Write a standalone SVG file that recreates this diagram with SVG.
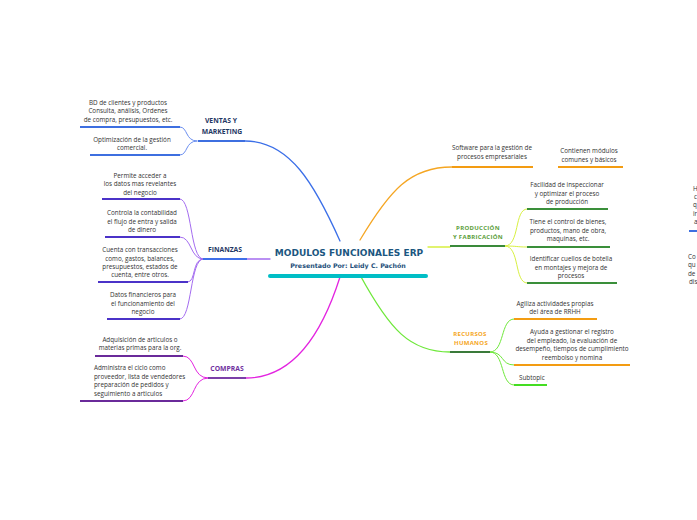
<svg xmlns="http://www.w3.org/2000/svg" width="697" height="520" viewBox="0 0 697 520">
<style>
.t{font-family:"Open Sans","DejaVu Sans",sans-serif;font-size:6.3px;fill:#333;text-anchor:middle}
.ts{font-family:"Open Sans","DejaVu Sans",sans-serif;font-size:6.3px;fill:#333}
.lb{font-family:"Open Sans","DejaVu Sans",sans-serif;font-size:6.8px;font-weight:bold;text-anchor:middle}
.ls{font-family:"Open Sans","DejaVu Sans",sans-serif;font-size:6px;font-weight:bold;text-anchor:middle;letter-spacing:0.3px}
.c{fill:none;stroke-width:1.3;stroke-linecap:round}
.b{fill:none;stroke-width:1;stroke-linecap:round}
.u{fill:none;stroke-width:2}
</style>
<rect width="697" height="520" fill="#fff"/>
<g id="connectors">
<path class="c" stroke="#3b6fe8" d="M340,241 C315,185 290,141 245,141"/>
<path class="c" stroke="#a46cf0" d="M270,259 L247,259"/>
<path class="c" stroke="#e324e0" d="M340,277 C320,340 290,378 246,378"/>
<path class="c" stroke="#f5a623" d="M360,240 C390,190 410,167 452,167"/>
<path class="c" stroke="#d8f040" d="M428,247 L450,247"/>
<path class="c" stroke="#6ee83a" d="M360,275 C390,330 410,352 450,352"/>
<path class="b" stroke="#6a8ef0" d="M197,141 C185,141 188,127 180,127 M197,141 C185,141 188,155 180,155"/>
<path class="b" stroke="#a46cf0" d="M203,259 C190,259 192,199 180,199 M203,259 C190,259 192,237 180,237 M203,259 C192,259 196,282 188,282 M203,259 C190,259 192,319 180,319"/>
<path class="b" stroke="#e324e0" d="M208,378 C192,378 196,356 183,356 M208,378 C192,378 196,401 183,401"/>
<path class="b" stroke="#d8f040" d="M505,246 C520,246 514,209 527,209 M505,246 C518,246 516,247 527,247 M505,246 C520,246 514,283 527,283"/>
<path class="b" stroke="#6ee83a" d="M490,352 C505,352 500,319 514,319 M490,352 C505,352 500,365 514,365 M490,352 C505,352 500,385 514,385"/>
</g>
<g id="central">
<text x="349" y="256" font-family="'DejaVu Sans',sans-serif" font-size="9" font-weight="bold" fill="#1b5680" text-anchor="middle">MODULOS FUNCIONALES ERP</text>
<text x="348" y="267.5" font-family="'DejaVu Sans',sans-serif" font-size="6.3" font-weight="bold" fill="#1e4f7a" text-anchor="middle">Presentado Por: Leidy C. Pachón</text>
<rect x="268" y="274" width="160" height="4" rx="2" fill="#00bec6"/>
</g>
<g id="ventas">
<text class="lb" x="221" y="123" fill="#1f3864">VENTAS Y</text>
<text class="lb" x="222" y="134" fill="#1f3864">MARKETING</text>
<line class="u" x1="198" y1="141" x2="245" y2="141" stroke="#3e6fe0"/>
</g>
<g id="ventas-1">
<text class="t" x="128" y="105">BD de clientes y productos</text>
<text class="t" x="128" y="113">Consulta, análisis, Ordenes</text>
<text class="t" x="128" y="122">de compra, presupuestos, etc.</text>
<line class="u" x1="80" y1="127" x2="180" y2="127" stroke="#3e6fe0"/>
</g>
<g id="ventas-2">
<text class="t" x="132" y="142">Optimización de la gestión</text>
<text class="t" x="132" y="150">comercial.</text>
<line class="u" x1="90" y1="155" x2="180" y2="155" stroke="#3e6fe0"/>
</g>
<g id="finanzas">
<text class="lb" x="225" y="252" fill="#1f3864">FINANZAS</text>
<line class="u" x1="203" y1="259" x2="247" y2="259" stroke="#3f6fe8"/>
</g>
<g id="finanzas-1">
<text class="t" x="140" y="178">Permite acceder a</text>
<text class="t" x="140" y="186">los datos mas revelantes</text>
<text class="t" x="140" y="195">del negocio</text>
<line class="u" x1="102" y1="199" x2="180" y2="199" stroke="#4b32c8"/>
</g>
<g id="finanzas-2">
<text class="t" x="142" y="215">Controla la contabilidad</text>
<text class="t" x="142" y="224">el flujo de entra y salida</text>
<text class="t" x="142" y="232">de dinero</text>
<line class="u" x1="105" y1="237" x2="180" y2="237" stroke="#4b32c8"/>
</g>
<g id="finanzas-3">
<text class="t" x="140" y="252">Cuenta con transacciones</text>
<text class="t" x="140" y="261">como, gastos, balances,</text>
<text class="t" x="140" y="269">presupuestos, estados de</text>
<text class="t" x="140" y="277">cuenta, entre otros.</text>
<line class="u" x1="98" y1="282" x2="188" y2="282" stroke="#4b32c8"/>
</g>
<g id="finanzas-4">
<text class="t" x="143" y="297">Datos financieros para</text>
<text class="t" x="143" y="306">el funcionamiento del</text>
<text class="t" x="143" y="314">negocio</text>
<line class="u" x1="107" y1="319" x2="180" y2="319" stroke="#4b32c8"/>
</g>
<g id="compras">
<text class="lb" x="227" y="371" fill="#7030a0">COMPRAS</text>
<line class="u" x1="208" y1="378" x2="246" y2="378" stroke="#7b3fa8"/>
</g>
<g id="compras-1">
<text class="t" x="140" y="342">Adquisición de articulos o</text>
<text class="t" x="140" y="350">materias primas para la org.</text>
<line class="u" x1="95" y1="356" x2="183" y2="356" stroke="#6a2a9a"/>
</g>
<g id="compras-2">
<text class="ts" x="94" y="370">Administra el ciclo como</text>
<text class="ts" x="94" y="379">proveedor, lista de vendedores</text>
<text class="ts" x="94" y="387">preparación de pedidos y</text>
<text class="ts" x="94" y="396">seguimiento a articulos</text>
<line class="u" x1="80" y1="401" x2="183" y2="401" stroke="#6a2a9a"/>
</g>
<g id="software">
<text class="t" x="492" y="150">Software para la gestión de</text>
<text class="t" x="492" y="159">procesos empresariales</text>
<line class="u" x1="452" y1="167" x2="533" y2="167" stroke="#f39c12"/>
</g>
<g id="software-1">
<text class="t" x="589" y="153">Contienen módulos</text>
<text class="t" x="589" y="162">comunes y básicos</text>
<line class="u" x1="558" y1="167" x2="623" y2="167" stroke="#f39c12"/>
</g>
<g id="produccion">
<text class="ls" x="478" y="230" fill="#5a9e3a">PRODUCCIÓN</text>
<text class="ls" x="478" y="239" fill="#5a9e3a">Y FABRICACIÓN</text>
<line class="u" x1="450" y1="246" x2="505" y2="246" stroke="#3a8a3a"/>
</g>
<g id="produccion-1">
<text class="t" x="567" y="187">Facilidad de inspeccionar</text>
<text class="t" x="567" y="196">y optimizar el proceso</text>
<text class="t" x="567" y="204">de producción</text>
<line class="u" x1="527" y1="209" x2="608" y2="209" stroke="#3a8f3a"/>
</g>
<g id="produccion-2">
<text class="t" x="568" y="224">Tiene el control de bienes,</text>
<text class="t" x="568" y="233">productos, mano de obra,</text>
<text class="t" x="568" y="241">maquinas, etc.</text>
<line class="u" x1="527" y1="247" x2="610" y2="247" stroke="#3a8f3a"/>
</g>
<g id="produccion-3">
<text class="t" x="571" y="261">Identificar cuellos de botella</text>
<text class="t" x="571" y="270">en montajes y mejora de</text>
<text class="t" x="571" y="278">procesos</text>
<line class="u" x1="527" y1="283" x2="617" y2="283" stroke="#3a8f3a"/>
</g>
<g id="rrhh">
<text class="ls" x="470" y="336" fill="#f5a623">RECURSOS</text>
<text class="ls" x="471" y="345" fill="#f5a623">HUMANOS</text>
<line class="u" x1="450" y1="352" x2="490" y2="352" stroke="#3a7a3a"/>
</g>
<g id="rrhh-1">
<text class="t" x="555" y="306">Agiliza actividades propias</text>
<text class="t" x="555" y="314">del área de RRHH</text>
<line class="u" x1="514" y1="319" x2="597" y2="319" stroke="#f39c12"/>
</g>
<g id="rrhh-2">
<text class="t" x="572" y="334">Ayuda a gestionar el registro</text>
<text class="t" x="572" y="343">del empleado, la evaluación de</text>
<text class="t" x="572" y="351">desempeño, tiempos de cumplimiento</text>
<text class="t" x="572" y="360">reembolso y nomina</text>
<line class="u" x1="514" y1="365" x2="630" y2="365" stroke="#f39c12"/>
</g>
<g id="rrhh-3">
<text class="ts" x="519" y="380">Subtopic</text>
<line class="u" x1="514" y1="385" x2="547" y2="385" stroke="#44dd22"/>
</g>
<g id="edge-1">
<text class="ts" x="693" y="191">H</text>
<text class="ts" x="694" y="199">c</text>
<text class="ts" x="693" y="206.5">q</text>
<text class="ts" x="693" y="215.5">ir</text>
<text class="ts" x="694" y="224">a</text>
<line class="u" x1="689" y1="231" x2="697" y2="231" stroke="#3e6fe0"/>
</g>
<g id="edge-2">
<text class="ts" x="688" y="259">Co</text>
<text class="ts" x="688" y="267">qu</text>
<text class="ts" x="688" y="276">de</text>
<text class="ts" x="689" y="284">dis</text>
</g>
</svg>
